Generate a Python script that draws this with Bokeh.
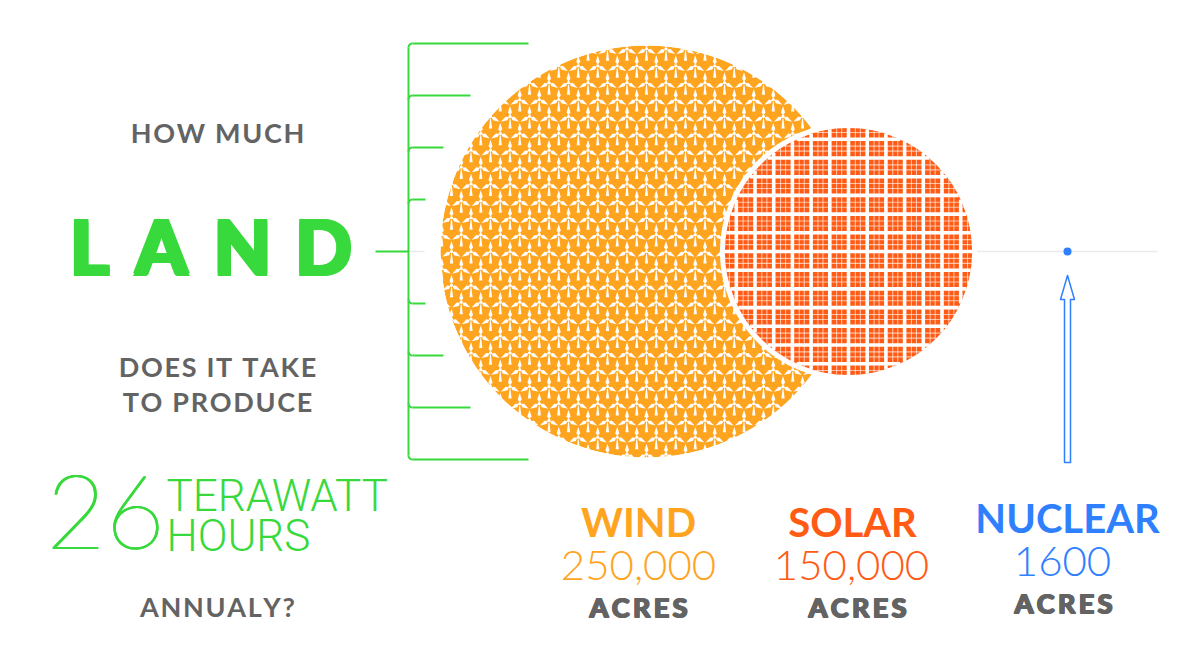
import numpy as np
from bokeh.plotting import figure
from bokeh.models import Range1d
from bokeh.core.properties import value
from bokeh.embed import file_html
from bokeh.resources import INLINE

# ---- data -------------------------------------------------------------
sources = ["WIND", "SOLAR", "NUCLEAR"]
acres = [250000, 150000, 1600]
acre_labels = ["250,000", "150,000", "1600"]
unit_label = "ACRES"
energy_amount = "26"
energy_unit = ["TERAWATT", "HOURS"]
question = ["HOW MUCH", "LAND", "DOES IT TAKE", "TO PRODUCE", "ANNUALY?"]

# ---- styling ----------------------------------------------------------
W, H = 1200, 663
GREEN = "#38d93c"
GRAY = "#636363"
RULE = "#e9e9ec"
colors = ["#ffa41f", "#ff5b14", "#2f80ff"]
centers_x = [646, 848, 1067]
center_y = 251
px_per_acre = 206 / 250000.0
min_dot = 4.0

BOLD = value("Lato")
LIGHT = value("'Lato Light', Lato")
THIN = value("'Lato Hairline', 'Lato Thin', 'Lato Light', Lato")
COND = value("'Roboto Light', Roboto")

p = figure(width=W, height=H, x_range=Range1d(0, W), y_range=Range1d(H, 0),
           output_backend="svg", toolbar_location=None, min_border=0,
           x_axis_type=None, y_axis_type=None)
p.grid.visible = False
p.outline_line_color = None
p.background_fill_color = "white"
p.border_fill_color = "white"


def label(xs, ys, texts, size, color, font=BOLD, style="normal", align="center", spread=0.0):
    """Text placed by the bottom of its capitals; `spread` thickens strokes."""
    shift = 0.4 * size
    offsets = [(0.0, 0.0)]
    if spread:
        offsets = [(dx, dy) for dx in (-spread, 0.0, spread) for dy in (-spread / 2, spread / 2)]
    for dx, dy in offsets:
        p.text(x=[x + dx for x in xs], y=[y - shift + dy for y in ys], text=texts,
               text_font=font, text_font_style=style, text_font_size=f"{size}px",
               text_color=color, text_align=align, text_baseline="alphabetic")


def spaced(s, sep="\u200a"):
    return sep.join(s)


radii = [max(a * px_per_acre, min_dot) for a in acres]
r_w, r_s, r_n = radii
cx_w, cx_s, cx_n = centers_x

# light baseline through the circle centres
p.segment(x0=[400], y0=[center_y], x1=[1157], y1=[center_y], line_color=RULE, line_width=1.5)

# ---- wind circle with turbine pattern ------------------------------
p.circle(x=[cx_w], y=[center_y], radius=r_w, fill_color=colors[0], line_color=None)

pitch = 19.5
row_h = pitch * np.sqrt(3) / 2
xs_shapes, ys_shapes, hubs_x, hubs_y = [], [], [], []
n = int(r_w / row_h) + 2
for j in range(-n, n + 1):
    for i in range(-n, n + 1):
        hx = cx_w + i * pitch + (j % 2) * pitch / 2
        hy = center_y + j * row_h
        if (hx - cx_w) ** 2 + (hy - center_y) ** 2 > (r_w + 9) ** 2:
            continue
        hubs_x.append(hx)
        hubs_y.append(hy)
        h = np.array([hx, hy])
        for ang in (90, 210, 330):
            a = np.radians(ang)
            d = np.array([np.cos(a), -np.sin(a)])
            q = np.array([np.sin(a), np.cos(a)])
            pts = [h + d * 1.2, h + d * 4.0 + q * 2.0, h + d * 10.5, h + d * 4.0 - q * 2.0]
            xs_shapes.append([pt[0] for pt in pts])
            ys_shapes.append([pt[1] for pt in pts])
        # tower
        xs_shapes.append([hx - 0.4, hx + 0.4, hx + 1.6, hx - 1.6])
        ys_shapes.append([hy + 2, hy + 2, hy + 12, hy + 12])
p.patches(xs=xs_shapes, ys=ys_shapes, fill_color="white", line_color=None)
p.circle(x=hubs_x, y=hubs_y, radius=1.6, fill_color="white", line_color=None)
# trim the pattern at the circle edge
p.annulus(x=[cx_w], y=[center_y], inner_radius=r_w, outer_radius=r_w + 16,
          fill_color="white", line_color=None)

# ---- solar circle with panel grid ------------------------------------
p.circle(x=[cx_s], y=[center_y], radius=r_s + 5, fill_color="white", line_color=None)
p.circle(x=[cx_s], y=[center_y], radius=r_s, fill_color=colors[1], line_color=None)

panel = 18.7
gap = 3.6
cell = (panel - gap) / 3


def chords(offsets, vertical):
    x0, y0, x1, y1 = [], [], [], []
    for o in offsets:
        if abs(o) >= r_s:
            continue
        half = np.sqrt(r_s ** 2 - o ** 2)
        if vertical:
            x0.append(cx_s + o); x1.append(cx_s + o)
            y0.append(center_y - half); y1.append(center_y + half)
        else:
            y0.append(center_y + o); y1.append(center_y + o)
            x0.append(cx_s - half); x1.append(cx_s + half)
    return x0, y0, x1, y1


k = np.arange(-8, 9)
thick = list(k * panel)
thin = [t + gap / 2 + cell * m for t in thick for m in (1, 2)]
for vertical in (True, False):
    x0, y0, x1, y1 = chords(thin, vertical)
    p.segment(x0=x0, y0=y0, x1=x1, y1=y1, line_color="white", line_alpha=0.6, line_width=1.1)
    x0, y0, x1, y1 = chords(thick, vertical)
    p.segment(x0=x0, y0=y0, x1=x1, y1=y1, line_color="white", line_width=gap)

# ---- nuclear dot and arrow ------------------------------------------
p.circle(x=[cx_n], y=[center_y], radius=r_n, fill_color=colors[2], line_color=None)
tip, head_base, foot = center_y + 24, center_y + 48, 462
p.patch(x=[cx_n, cx_n + 7, cx_n + 3, cx_n + 3, cx_n - 3, cx_n - 3, cx_n - 7, cx_n],
        y=[tip, head_base, head_base, foot, foot, head_base, head_base, tip],
        fill_color="white", line_color=colors[2], line_width=1.5, line_join="round")

# ---- green bracket spanning the wind diameter ------------------------
top, bottom = center_y - r_w - 2, center_y + r_w + 2
bx = 408
tick_len = [120, 62, 35, 17, 0, 17, 35, 62, 120]
ticks_y = np.linspace(top, bottom, len(tick_len))
p.segment(x0=[bx], y0=[top + 4], x1=[bx], y1=[bottom - 4], line_color=GREEN, line_width=2)
arc_t = np.linspace(0, np.pi / 2, 8)
for ty, ln in zip(ticks_y, tick_len):
    if ln == 0:
        p.segment(x0=[375], y0=[ty], x1=[bx], y1=[ty], line_color=GREEN, line_width=2)
        continue
    p.segment(x0=[bx + 4], y0=[ty], x1=[bx + ln], y1=[ty], line_color=GREEN, line_width=2)
    sgn = 1 if ty < center_y else -1
    p.line(x=list(bx + 4 - 4 * np.cos(arc_t)), y=list(ty + sgn * (4 - 4 * np.sin(arc_t))),
           line_color=GREEN, line_width=2)

# ---- left hand question text -------------------------------------------
label([217], [143], [spaced(question[0])], 27, GRAY, style="bold")
label([89, 161, 242, 323], [275] * 4, list(question[1]), 74, GREEN, style="bold", spread=2.2)
label([217, 217], [377, 412], [spaced(q) for q in question[2:4]], 27, GRAY, style="bold")
label([217], [617], [spaced(question[4])], 27, GRAY, style="bold")

label([46], [553], [energy_amount], 102, GREEN, font=THIN, align="left", spread=0.7)
label([166, 166], [513, 553], energy_unit, 44, GREEN, font=COND, align="left")

# ---- source labels -------------------------------------------------------
label([638, 852], [537, 537], sources[:2], 40, colors[:2], style="bold")
label([1067], [533], sources[2:], 40, colors[2], style="bold")
label([638, 851], [582, 582], acre_labels[:2], 42, colors[:2], font=LIGHT)
label([1062], [578], acre_labels[2:], 42, colors[2], font=LIGHT)
label([638, 857, 1063], [617, 617, 613], [spaced(unit_label, "\u2009")] * 3, 27, GRAY,
      style="bold", spread=0.8)

open("out.html", "w").write(file_html(p, INLINE))
